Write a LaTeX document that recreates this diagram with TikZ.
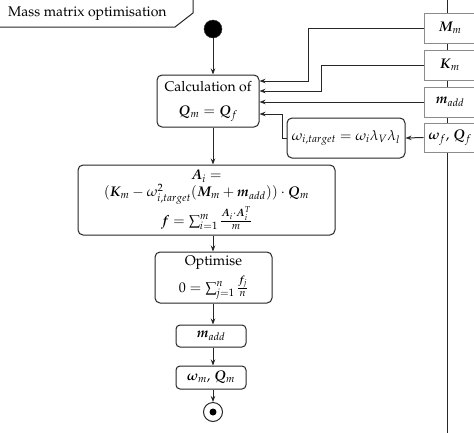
\documentclass[tikz,border=0pt]{standalone}
\usepackage[T1]{fontenc}
\usepackage{mathpazo}
\usepackage{bm}
\usetikzlibrary{arrows.meta,calc}
\begin{document}
\begin{tikzpicture}[x=1pt,y=-1pt,
  font=\fontsize{14}{17}\selectfont,
  line/.style={draw=black!85, line width=1pt},
  arr/.style={line, -{Stealth[length=6pt,width=4.5pt]}},
  rbox/.style={draw=black!85, line width=1pt, rounded corners=5pt, fill=white, align=center, inner sep=2pt},
  pin/.style={draw=black!45, line width=1pt, fill=white, minimum width=52pt, minimum height=30pt, inner sep=0pt}]
\useasboundingbox (0,0) rectangle (474,432);
% frame
\draw[line] (447,-2) -- (447,434);
\draw[line] (-2,27) -- (175,27) -- (193,13) -- (193,-2);
\node[anchor=west, inner sep=0pt] (title) at (8,14) {Mass matrix optimisation};
% input pins
\node[pin] (Mm) at (450,28) {$\bm{M}_m$};
\node[pin] (Km) at (450,65) {$\bm{K}_m$};
\node[pin] (ma) at (450,102) {$\bm{m}_{add}$};
\node[pin, minimum height=29pt] (wf) at (450,137.5) {$\bm{\omega}_f$, $\bm{Q}_f$};
% main flow
\node[circle, fill=black, draw=black!80, minimum size=18pt, inner sep=0pt] (start) at (213,29) {};
\node[rbox, minimum width=102pt, minimum height=52pt] (calc) at (208,101) {Calculation of\\[7pt] $\bm{Q}_m = \bm{Q}_f$};
\node[rbox, minimum width=118pt, minimum height=40pt] (wt) at (346,138) {$\omega_{i,target}=\omega_i\lambda_V\lambda_l$};
\node[rbox, minimum width=257pt, minimum height=70pt, inner sep=1pt] (Ai) at (206.5,200) {$\bm{A}_i =$\\ $(\bm{K}_m - \omega^2_{i,target}(\bm{M}_m+\bm{m}_{add}))\cdot\bm{Q}_m$\\[2pt] $\bm{f}=\sum_{i=1}^{m}\frac{\bm{A}_i\cdot\bm{A}_i^T}{m}$};
\node[rbox, minimum width=117pt, minimum height=51pt] (opt) at (213.5,277.5) {Optimise\\[5pt] $0=\sum_{j=1}^{n}\frac{\bm{f}_j}{n}$};
\node[rbox, minimum width=70pt, minimum height=22pt, rounded corners=4pt] (madd) at (211,336) {$\bm{m}_{add}$};
\node[rbox, minimum width=70pt, minimum height=23pt, rounded corners=4pt] (wm) at (211,377.5) {$\bm{\omega}_m$, $\bm{Q}_m$};
\node[circle, draw=black!85, line width=1pt, minimum size=19pt, inner sep=0pt] (end) at (213,412) {};
\node[circle, fill=black, minimum size=7pt, inner sep=0pt] (enddot) at (end.center) {};
% flow arrows
\draw[arr] (start) -- (start |- calc.north);
\draw[arr] (calc.south -| start) -- (Ai.north -| start);
\draw[arr] (Ai.south -| start) -- (opt.north -| start);
\draw[arr] (opt.south -| start) -- (madd.north -| start);
\draw[arr] (madd.south -| start) -- (wm.north -| start);
\draw[arr] (wm.south -| start) -- (end.north);
% inputs
\draw[arr] (Mm.west) -| (308,81) -- (calc.east |- 0,81);
\draw[arr] (Km.west) -| (321,91) -- (calc.east |- 0,91);
\draw[arr] (ma.west) -- (ma.west -| calc.east);
\draw[arr] (wt.west) -| (282,114) -- (calc.east |- 0,114);
\draw[arr] (wf.west) -- (wt.east);
\end{tikzpicture}
\end{document}
